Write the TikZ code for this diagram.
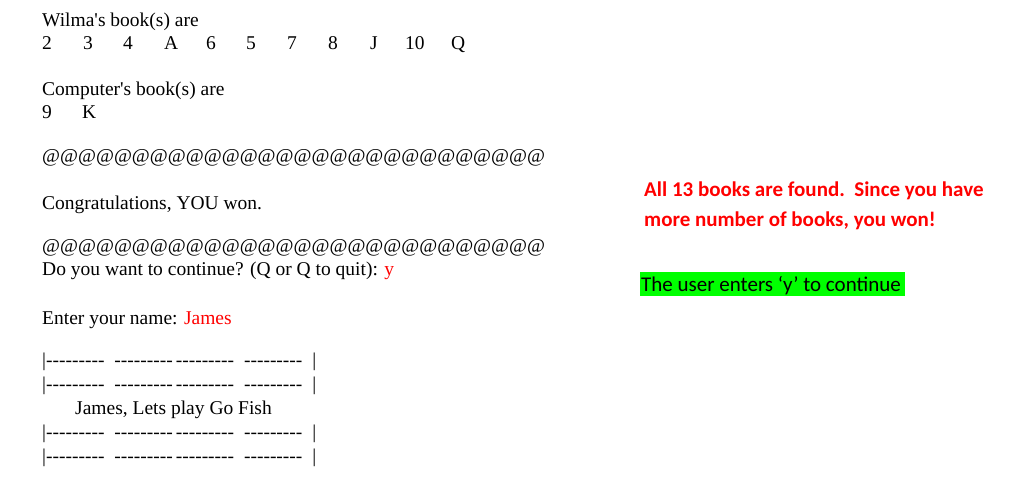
\documentclass[tikz,border=0pt]{standalone}
\usepackage{fontspec}
\setmainfont{Liberation Serif}[Ligatures=TeXOff]
\newfontfamily\calfont{Carlito}[Ligatures=TeXOff]
\definecolor{myred}{RGB}{255,0,0}
\definecolor{mygreen}{RGB}{0,255,0}
\begin{document}
\begin{tikzpicture}[x=1pt,y=-1pt,
  t/.style={anchor=base west,inner sep=0pt,font=\fontsize{19.5}{22}\selectfont},
  r/.style={anchor=base west,inner sep=0pt,font=\calfont\bfseries\fontsize{21}{24}\selectfont,text=myred}]
\useasboundingbox (0,0) rectangle (1024,502);
\node[t] (l1) at (42,27) {Wilma's book(s) are};
\foreach \v/\x [count=\i] in {2/42,3/83,4/123,A/164,6/206,5/246,7/287,8/328,J/370,10/405,Q/451}
  \node[t] (w\i) at (\x,50) {\v};
\node[t] (l2) at (42,96) {Computer's book(s) are};
\node[t] (c1) at (42,119) {9};
\node[t] (c2) at (82,119) {K};
\node[t] (at1) at (42,163) {@@@@@@@@@@@@@@@@@@@@@@@@@@@@};
\node[t] (cg) at (42,210) {Congratulations, YOU won.};
\node[t] (at2) at (42,253) {@@@@@@@@@@@@@@@@@@@@@@@@@@@@};
\node[t] (q) at (42,276) {Do you want to continue? (Q or Q to quit): \textcolor{myred}{y}};
\node[t] (n) at (42,324) {Enter your name: \textcolor{myred}{James}};
\foreach \y [count=\i] in {366,390,438,462}
  \node[t] (d\i) at (42,\y) {\makebox[274pt][s]{|---------\hfill---------\hskip3pt---------\hfill---------\hfill|}};
\node[t] (j) at (75,414) {James, Lets play Go Fish};
\node[r] (r1) at (644,197) {All 13 books are found.\ \ Since you have};
\node[r] (r2) at (644,227) {more number of books, you won!};
\fill[mygreen] (640,272) rectangle (905,296);
\node[anchor=base west,inner sep=0pt,font=\calfont\fontsize{21}{24}\selectfont] (g) at (641,291) {The user enters ‘y’ to continue};
\end{tikzpicture}
\end{document}
